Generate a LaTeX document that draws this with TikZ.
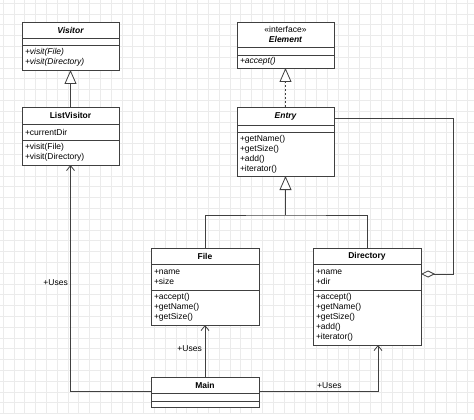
\documentclass[tikz,border=0pt]{standalone}
\usepackage{fontspec}
\setmainfont{Liberation Sans}
\usetikzlibrary{arrows.meta,positioning}

\tikzset{
  row/.style={draw=black!75, fill=white, line width=0.8pt, outer sep=0pt,
    inner xsep=3pt, inner ysep=0pt, align=left,
    font=\fontsize{8.5}{10}\selectfont},
  head/.style={row, align=center, font=\fontsize{8.5}{10}\selectfont\bfseries},
  narrow/.style={minimum width=97pt, text width=91pt},
  wide/.style={minimum width=108pt, text width=102pt},
  gridline/.style={draw=black!8, line width=0.5pt},
  link/.style={draw=black!75, line width=0.8pt},
  inherit/.style={link, -{Triangle[open, length=14pt, width=12pt, fill=white]}},
  realize/.style={inherit, dash pattern=on 2pt off 2pt},
  uses/.style={link, -{Straight Barb[length=5pt, width=8pt]}},
  aggr/.style={link, {Diamond[open, length=14pt, width=7pt, fill=white]}-},
  lbl/.style={inner sep=0pt, font=\fontsize{8.5}{10}\selectfont}
}

\begin{document}
\begin{tikzpicture}[x=1pt, y=-1pt]
  \useasboundingbox (0,0) rectangle (474,420);
  \fill[white] (0,0) rectangle (474,420);
  \foreach \gx in {3,13.8,...,474} \draw[gridline] (\gx,0) -- (\gx,414);
  \foreach \gy in {3,13.8,...,414} \draw[gridline] (0,\gy) -- (474,\gy);

  % Visitor
  \node[head, narrow, minimum height=16pt, anchor=north west] (vis) at (22,22) {\itshape Visitor};
  \node[row, narrow, minimum height=7pt, below=0pt of vis] (vis-a) {};
  \node[row, narrow, minimum height=25pt, below=0pt of vis-a] (vis-m) {\itshape +visit(File)\\\itshape +visit(Directory)};

  % ListVisitor
  \node[head, narrow, minimum height=17pt, anchor=north west] (lv) at (22,107) {ListVisitor};
  \node[row, narrow, minimum height=16pt, below=0pt of lv] (lv-a) {+currentDir};
  \node[row, narrow, minimum height=25pt, below=0pt of lv-a] (lv-m) {+visit(File)\\+visit(Directory)};

  % Element
  \node[head, narrow, minimum height=25pt, anchor=north west] (elem) at (237,22) {{\mdseries «interface»}\\\itshape Element};
  \node[row, narrow, minimum height=8pt, below=0pt of elem] (elem-a) {};
  \node[row, narrow, minimum height=13pt, below=0pt of elem-a] (elem-m) {\itshape +accept()};

  % Entry
  \node[head, narrow, minimum height=18pt, anchor=north west] (entry) at (237,107) {\itshape Entry};
  \node[row, narrow, minimum height=7pt, below=0pt of entry] (entry-a) {};
  \node[row, narrow, minimum height=44pt, below=0pt of entry-a] (entry-m) {+getName()\\+getSize()\\+add()\\+iterator()};

  % File
  \node[head, wide, minimum height=16pt, anchor=north west] (file) at (151,248) {File};
  \node[row, wide, minimum height=26pt, below=0pt of file] (file-a) {+name\\+size};
  \node[row, wide, minimum height=35pt, below=0pt of file-a] (file-m) {+accept()\\+getName()\\+getSize()};

  % Directory
  \node[head, wide, minimum height=16pt, anchor=north west] (dir) at (313,248) {Directory};
  \node[row, wide, minimum height=26pt, below=0pt of dir] (dir-a) {+name\\+dir};
  \node[row, wide, minimum height=55pt, below=0pt of dir-a] (dir-m) {+accept()\\+getName()\\+getSize()\\+add()\\+iterator()};

  % Main
  \node[head, wide, minimum height=16pt, anchor=north west] (main) at (151,377) {Main};
  \node[row, wide, minimum height=8pt, below=0pt of main] (main-a) {};
  \node[row, wide, minimum height=6pt, below=0pt of main-a] (main-m) {};

  % generalization and realization
  \draw[inherit] (lv.north) -- (vis-m.south);
  \draw[realize] (entry.north) -- (elem-m.south);
  \path (entry-m.south) ++(0,39) coordinate (split);
  \draw[link] (file.north) |- (split) -| (dir.north);
  \draw[inherit] (split) -- (entry-m.south);

  % aggregation
  \coordinate (agg) at (453,274);
  \draw[aggr] (dir-a.east |- agg) -- (agg) |- ([yshift=-2pt]entry.east);

  % uses
  \draw[uses] ([yshift=1.5pt]main.south west) -| (lv-m.south);
  \draw[uses] (main.north) -- (file-m.south);
  \draw[uses] ([yshift=1.5pt]main.south east) -| ([xshift=11pt]dir-m.south);
  \node[lbl, anchor=east] (uses-lv) at (68,283) {+Uses};
  \node[lbl, anchor=east] (uses-file) at (202,349) {+Uses};
  \node[lbl, anchor=west] (uses-dir) at (317,386) {+Uses};
\end{tikzpicture}
\end{document}
